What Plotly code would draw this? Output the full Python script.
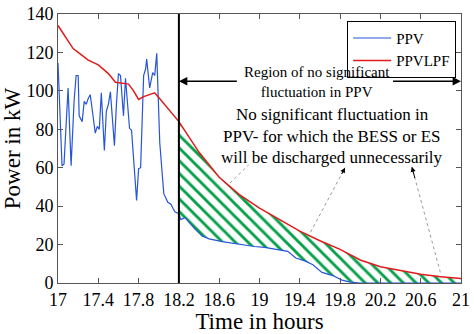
import numpy as np
import plotly.graph_objects as go

# PPV (measured PV power), time in hours / power in kW
ppv_t = [17.00, 17.04, 17.06, 17.10, 17.13, 17.16, 17.18, 17.20, 17.21, 17.24,
         17.26, 17.28, 17.30, 17.32, 17.35, 17.37, 17.39, 17.41, 17.43, 17.46,
         17.48, 17.50, 17.52, 17.56, 17.58, 17.60, 17.62, 17.65, 17.67, 17.69,
         17.71, 17.73, 17.75, 17.77, 17.78, 17.80, 17.82, 17.85, 17.87, 17.88,
         17.91, 17.94, 17.96, 17.98, 18.01, 18.05, 18.09, 18.12, 18.16, 18.20,
         18.22, 18.26, 18.30, 18.36, 18.43, 18.50, 18.63, 18.75, 18.85, 18.95,
         19.05, 19.15, 19.28, 19.36, 19.45, 19.53, 19.62, 19.72, 19.82, 19.90,
         20.00, 20.50, 21.00]
ppv_kw = [114.5, 61, 62, 101.5, 61, 95, 108, 108, 87, 84,
          94.5, 93, 96, 98, 86, 78, 81.5, 80, 99, 69,
          89.5, 93, 99.5, 71.5, 93, 109, 108, 87, 106.5, 92,
          80.5, 79.5, 65, 52, 43, 59.5, 60, 108, 111.5, 116.5,
          101.5, 109.5, 108, 119.5, 73, 46.5, 42, 41, 37, 36,
          33, 34, 31.5, 28, 24.5, 23, 21.5, 20.5, 20, 19,
          18.5, 17.5, 16.5, 13, 11.5, 9.5, 5.5, 4, 1.5, 0.5,
          0, 0, 0]

# PPVLPF (low-pass filtered PV power)
lpf_t = [17.00, 17.05, 17.10, 17.15, 17.20, 17.30, 17.40, 17.50, 17.57, 17.65,
         17.70, 17.75, 17.80, 17.85, 17.90, 17.96, 18.00, 18.10, 18.20, 18.40,
         18.60, 18.80, 19.00, 19.20, 19.40, 19.60, 19.80, 20.00, 20.20, 20.40,
         20.60, 20.80, 21.00]
lpf_kw = [134, 130, 126.5, 122, 120, 116, 113.5, 109, 104.5, 104,
          103.5, 100, 95.5, 97, 98, 99, 96.5, 90, 84, 68,
          55, 46, 39, 33, 27, 22, 17.5, 12, 8.5, 6.5,
          4.5, 3.3, 2.3]

boundary_t = 18.2
x_ticks = [17, 17.4, 17.8, 18.2, 18.6, 19, 19.4, 19.8, 20.2, 20.6, 21]
y_ticks = [0, 20, 40, 60, 80, 100, 120, 140]

SERIF = "Liberation Serif, Times New Roman, serif"
BLUE = "#2655d8"
RED = "#e01b1b"
GREEN = "#06a04a"

pt = np.array(ppv_t); pk = np.array(ppv_kw)
lt = np.array(lpf_t); lk = np.array(lpf_kw)
mb = pt >= boundary_t
mr = lt >= boundary_t

fig = go.Figure()
fig.add_trace(go.Scatter(x=pt[mb], y=pk[mb], mode="lines", line=dict(width=0),
                         showlegend=False, hoverinfo="skip"))
fig.add_trace(go.Scatter(x=lt[mr], y=lk[mr], mode="lines", line=dict(width=0),
                         fill="tonexty", fillcolor="white",
                         fillpattern=dict(shape="\\", fgcolor=GREEN, bgcolor="white",
                                          fgopacity=1, size=9, solidity=0.32),
                         showlegend=False, hoverinfo="skip"))
fig.add_trace(go.Scatter(x=ppv_t, y=ppv_kw, mode="lines", name="PPV",
                         line=dict(color=BLUE, width=1.2)))
fig.add_trace(go.Scatter(x=lpf_t, y=lpf_kw, mode="lines", name="PPVLPF",
                         line=dict(color=RED, width=1.5)))

fig.add_shape(type="line", x0=boundary_t, x1=boundary_t, y0=0, y1=140,
              xref="x", yref="y", line=dict(color="black", width=2))

# double-headed arrow for region
arrow_y = 105
for (hx, tx) in [(boundary_t, 18.79), (21.0, 20.31)]:
    fig.add_annotation(x=hx, y=arrow_y, ax=tx, ay=arrow_y, xref="x", yref="y",
                       axref="x", ayref="y", text="", showarrow=True,
                       arrowhead=2, arrowsize=1.2, arrowwidth=1.4, arrowcolor="black")

fig.add_annotation(x=19.566, y=104.5, xref="x", yref="y",
                   text="Region of no significant<br>fluctuation in PPV",
                   showarrow=False, align="center",
                   font=dict(family=SERIF, size=15, color="black"))

for i, line in enumerate(["No significant fluctuation in",
                          "PPV- for which the BESS or ES",
                          "will be discharged unnecessarily"]):
    fig.add_annotation(x=19.72, y=87.5 - i * 11, xref="x", yref="y", text=line,
                       showarrow=False, font=dict(family=SERIF, size=17, color="black"))

# pointer arrows (head, tail)
pointers = [((18.893, 61.5), (18.707, 52)),
            ((19.849, 60), (19.507, 26.5)),
            ((20.512, 60.5), (20.795, 5.5))]
for (h, t) in pointers:
    fig.add_shape(type="line", x0=t[0], y0=t[1], x1=h[0], y1=h[1], xref="x", yref="y",
                  line=dict(color="#9a9a9a", width=1, dash="dot"))
    dx = h[0] - t[0]; dy = h[1] - t[1]
    fig.add_annotation(x=h[0], y=h[1], ax=h[0] - dx * 0.12, ay=h[1] - dy * 0.12,
                       xref="x", yref="y", axref="x", ayref="y", text="",
                       showarrow=True, arrowhead=2, arrowsize=1, arrowwidth=1,
                       arrowcolor="black")

axis_common = dict(showgrid=False, zeroline=False, showline=True, linecolor="#555555",
                   linewidth=1, mirror="ticks", ticks="inside", ticklen=5,
                   tickcolor="#555555", ticklabeloverflow="allow",
                   tickfont=dict(family=SERIF, size=18, color="black"))
fig.update_xaxes(range=[17, 21], tickvals=x_ticks,
                 ticktext=[f"{v:g}" for v in x_ticks],
                 title=dict(text="Time in hours", font=dict(family=SERIF, size=23, color="black"),
                            standoff=4),
                 **axis_common)
fig.update_yaxes(range=[0, 140], tickvals=y_ticks,
                 title=dict(text="Power in kW", font=dict(family=SERIF, size=23, color="black"),
                            standoff=4),
                 **axis_common)

fig.update_layout(
    width=474, height=334,
    margin=dict(l=58, r=4, t=6, b=48),
    plot_bgcolor="white", paper_bgcolor="white",
    legend=dict(x=0.988, y=0.975, xanchor="right", yanchor="top",
                bgcolor="white", bordercolor="black", borderwidth=1,
                font=dict(family=SERIF, size=15, color="black"),
                traceorder="normal", tracegroupgap=0, itemwidth=38),
)

fig.write_html("out.html")
